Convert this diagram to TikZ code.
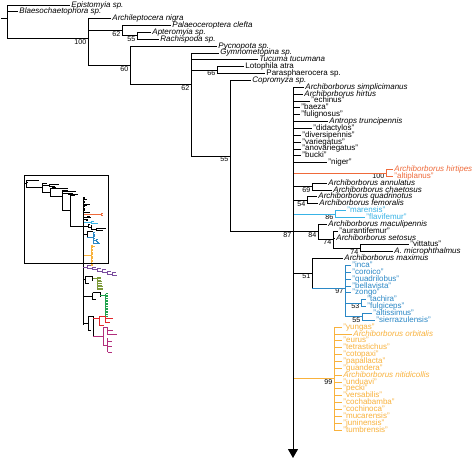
\documentclass[tikz,border=0pt]{standalone}
\usepackage{fontspec}
\setmainfont{Liberation Sans}
\usetikzlibrary{arrows.meta}

\definecolor{hirtcol}{HTML}{EF6A3A}
\definecolor{marcol}{HTML}{38B3E6}
\definecolor{incacol}{HTML}{2B88C6}
\definecolor{yungcol}{HTML}{F9B23C}
\definecolor{purpcol}{HTML}{7A4C9E}
\definecolor{olivcol}{HTML}{7D9A3A}
\definecolor{grencol}{HTML}{1EA24C}
\definecolor{redcol}{HTML}{E3262B}
\definecolor{magcol}{HTML}{B22E7C}

\tikzset{
  tip/.style={anchor=west, inner xsep=1pt, inner ysep=0pt, font=\fontsize{8}{9}\selectfont, text height=5.6pt, text depth=1.6pt},
  bs/.style={anchor=north east, inner sep=0.3pt, xshift=-1pt, font=\fontsize{7.1}{8}\selectfont},
}
\newcommand\lbl[1]{#1}
\newcommand\spn[1]{\textit{#1}}
\newcommand\leafy[1]{5+(#1-1)*6.855}
% leaves of one clade: row/end/name/text
\newcommand\clade[3]{%
  \foreach \k/\xe/\nm/\tx in {#3}{
    \node[tip,text=#2] (\nm) at (\xe,{\leafy{\k}}) {\lbl{\tx}};
    \draw[#2] (#1) |- (\nm.west);
  }}

\newcommand\drawtree{%
  \coordinate (base) at (1,18.4);
  \coordinate (r) at (7,18.4);
  \coordinate (n100) at (88,38.3);
  \coordinate (n62a) at (122,30.7);
  \coordinate (n55a) at (137,35.9);
  \coordinate (n60) at (130,65.4);
  \coordinate (n62b) at (191,84.7);
  \coordinate (n66) at (217,70.1);
  \coordinate (n55b) at (230,156.1);
  \coordinate (n87) at (293,231.8);
  \coordinate (n100b) at (386,173);
  \coordinate (n69) at (312,186.7);
  \coordinate (n54) at (307,200.4);
  \coordinate (n86) at (335,214);
  \coordinate (n84) at (318,231.8);
  \coordinate (n74a) at (333,239.2);
  \coordinate (n74b) at (360,248.4);
  \coordinate (n51) at (312,273.3);
  \coordinate (n97) at (345,288);
  \coordinate (n53) at (361,303.2);
  \coordinate (n55c) at (362,316.9);
  \coordinate (n99) at (334,378.6);
  \foreach \c/\v in {n100/100,n62a/62,n55a/55,n60/60,n62b/62,n66/66,n55b/55,n87/87,
    n100b/100,n69/69,n54/54,n86/86,n84/84,n74a/74,n74b/74,n51/51,n97/97,n53/53,n55c/55,n99/99}
    \node[bs] (b\c) at (\c) {\lbl{\v}};
  % outgroups
  \draw (base) -- (r);
  \clade{r}{black}{1/70/epis/\spn{Epistomyia sp.}, 2/18/blaeso/\spn{Blaesochaetophora sp.}}
  \draw (r) |- (n100);
  \clade{n100}{black}{3/111/archil/\spn{Archileptocera nigra}}
  \draw (n100) |- (n62a);
  \draw (n100) |- (n60);
  \clade{n62a}{black}{4/171/palaeo/\spn{Palaeoceroptera clefta}}
  \draw (n62a) |- (n55a);
  \clade{n55a}{black}{5/151/aptero/\spn{Apteromyia sp.}, 6/159/rachis/\spn{Rachispoda sp.}}
  \clade{n60}{black}{7/217/pycno/\spn{Pycnopota sp.}}
  \draw (n60) |- (n62b);
  \clade{n62b}{black}{8/219/gymno/\spn{Gymnometopina sp.}, 9/258/tucuma/\spn{Tucuma tucumana}}
  \draw (n62b) |- (n66);
  \draw (n62b) |- (n55b);
  \clade{n66}{black}{10/244/lotoph/Lotophila atra, 11/265/paras/Parasphaerocera sp.}
  \clade{n55b}{black}{12/251/copro/\spn{Copromyza sp.}}
  \draw (n55b) |- (n87);
  % Archiborborus
  \draw[hirtcol] (n87 |- n100b) -- (n100b);
  \draw[marcol] (n87 |- n86) -- (n86);
  \draw[yungcol] (n87 |- n99) -- (n99);
  \clade{n87}{black}{13/304/simpl/\spn{Archiborborus simplicimanus}, 14/303/hirtus/\spn{Archiborborus hirtus},
    15/310/echin/"echinus", 16/300/baeza/"baeza", 17/300/fulig/"fulignosus",
    18/328/antrops/\spn{Antrops truncipennis}, 19/312/didac/"didactylos", 20/301/divers/"diversipennis",
    21/301/varieg/"variegatus", 22/301/anovar/"anovariegatus", 23/301/bucki/"bucki", 24/327/niger/"niger"}
  \clade{n100b}{hirtcol}{25/393/hirtip/\spn{Archiborborus hirtipes}, 26/393/altipl/"altiplanus"}
  \draw (n87) |- (n69);
  \clade{n69}{black}{27/327/annul/\spn{Archiborborus annulatus}, 28/332/chaet/\spn{Archiborborus chaetosus}}
  \draw (n87) |- (n54);
  \clade{n54}{black}{29/317/quadrin/\spn{Archiborborus quadrinotus}, 30/318/femor/\spn{Archiborborus femoralis}}
  \clade{n86}{marcol}{31/346/marens/"marensis", 32/365/flavif/"flavifemur"}
  \draw (n87) |- (n84);
  \clade{n84}{black}{33/327/macul/\spn{Archiborborus maculipennis}}
  \draw (n84) |- (n74a);
  \clade{n74a}{black}{34/338/auran/"aurantifemur", 35/335/setos/\spn{Archiborborus setosus}}
  \draw (n74a) |- (n74b);
  \clade{n74b}{black}{36/409/vitt/"vittatus", 37/393/microph/\spn{A. microphthalmus}}
  \draw (n87) |- (n51);
  \clade{n51}{black}{38/343/maxim/\spn{Archiborborus maximus}}
  \draw (n51) -- (n51 |- n97);
  \draw[incacol] (n51 |- n97) -- (n97);
  \clade{n97}{incacol}{39/351/inca/"inca", 40/351/coroico/"coroico", 41/351/quadril/"quadrilobus",
    42/351/bella/"bellavista", 43/351/zongo/"zongo"}
  \draw[incacol] (n97) |- (n53);
  \draw[incacol] (n97) |- (n55c);
  \clade{n53}{incacol}{44/366/tachira/"tachira", 45/366/fulgic/"fulgiceps"}
  \clade{n55c}{incacol}{46/372/altiss/"altissimus", 47/375/sierra/"sierrazulensis"}
  \clade{n99}{yungcol}{48/342/yungas/"yungas", 49/352/orbit/\spn{Archiborborus orbitalis}, 50/342/eurus/"eurus",
    51/342/tetra/"tetrastichus", 52/342/cotop/"cotopaxi", 53/342/papal/"papallacta", 54/342/guand/"guandera",
    55/342/nitid/\spn{Archiborborus nitidicollis}, 56/342/undua/"unduavi", 57/342/pecki/"pecki",
    58/342/versa/"versabilis", 59/342/cocha/"cochabamba", 60/342/cochi/"cochinoca", 61/342/mucar/"mucarensis",
    62/342/junin/"juninensis", 63/342/tumbr/"tumbrensis"}
}

\begin{document}
\begin{tikzpicture}[x=1pt, y=-1pt, line width=0.9pt]
\useasboundingbox[fill=white] (0,0) rectangle (474,461);
\drawtree
\coordinate (more) at (293,458);
\draw[-{Triangle[width=10pt,length=9pt]}] (n87) -- (more);

% inset: whole tree
\begin{scope}[shift={(24.6,179.6)}, scale=0.2, line width=0.7pt]
  \renewcommand\lbl[1]{}
  \drawtree
  \coordinate (iend) at (293,727);
  \draw (n87) -- (iend);
\end{scope}
\begin{scope}[line width=0.7pt]
  % purple
  \draw[purpcol] (83.2,267) -- (87,267);
  \foreach \i in {0,...,5}
    \draw[purpcol] (87+5*\i,265.6+1.4*\i) -- ++(0,2.8) -- ++(5,0) (87+5*\i,265.6+1.4*\i) -- ++(3.5,0);
  % olive
  \draw (83.2,279.5) -- (85.5,279.5) (85.5,276) -- (85.5,283) -- (89,283) (85.5,276) -- (92.5,276) -- (92.5,281);
  \draw[olivcol] (92.5,278.5) -- (97.5,278.5) (97.5,277) -- (97.5,290);
  \foreach \j in {0,...,8}
    \draw[olivcol] (97.5,277+1.6*\j) -- ++(3+\j/3,0);
  % green
  \draw (83.2,296) -- (92.5,296) (92.5,292.5) -- (92.5,299.5) -- (96,299.5) (92.5,292.5) -- (100,292.5) -- (100,297);
  \draw[grencol] (100,295) -- (105.5,295) (105.5,293.5) -- (105.5,317);
  \foreach \j in {0,...,14}
    \draw[grencol] (105.5,293.5+1.6*\j) -- ++(2,0);
  % red and magenta
  \draw (83.2,323) -- (88.3,323) (88.3,316.7) -- (88.3,330) -- (91,330) (88.3,316.7) -- (93.3,316.7) -- (93.3,336.7);
  \draw[redcol] (93.3,318.3) -- (99.3,318.3) (99.3,316) -- (99.3,325) -- (104,325) (99.3,316) -- (105,316) -- (105,322)
    (105,318) -- (113,318) (105,322) -- (110,322);
  \draw[magcol] (93.3,336.7) -- (103.3,336.7) (103.3,327) -- (103.3,345) (103.3,327) -- (107,327) -- (107,334)
    (107,330) -- (113,330) (107,334) -- (117,334) (103.3,345) -- (107.7,345) (107.7,338) -- (107.7,352)
    (107.7,341) -- (111.7,341) (107.7,346) -- (111.7,346) (107.7,352) -- (111.7,352);
\end{scope}
\draw (24,175.5) rectangle (108,263.5);
\end{tikzpicture}
\end{document}
